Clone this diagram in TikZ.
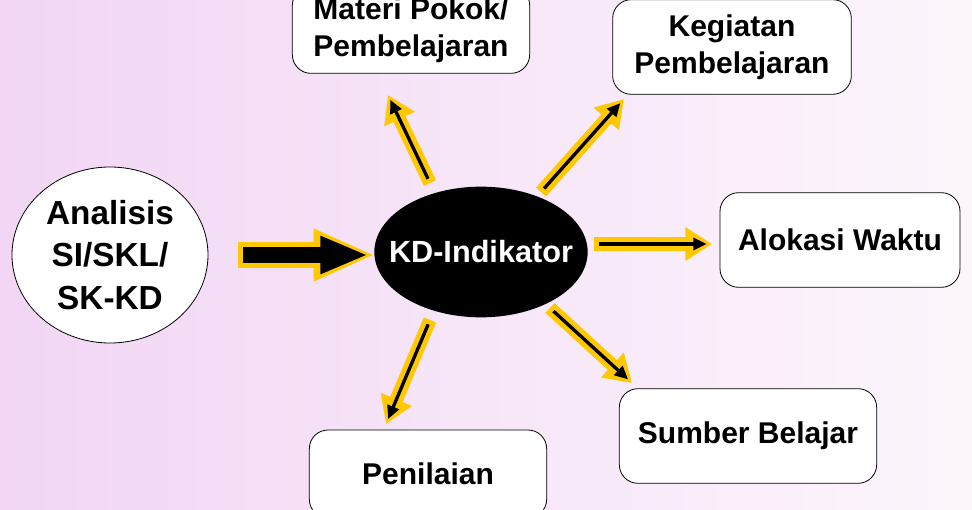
\documentclass[tikz,border=0pt]{standalone}
\usepackage{fontspec}
\setmainfont{Liberation Sans}
\usetikzlibrary{arrows.meta,shapes.geometric}
\definecolor{gold}{RGB}{255,200,0}
\tikzset{
  box/.style={draw,rounded corners=14pt,fill=white,line width=0.6pt,font=\bfseries\fontsize{22.5}{28}\selectfont,align=center,minimum height=71pt,inner sep=1pt},
  oy/.style={draw=gold,line width=10pt,-{Triangle[length=20pt,width=24pt]}},
  ib/.style={draw=black,line width=2.5pt,-{Triangle[length=10pt,width=9pt]},shorten >=4pt,shorten <=3.5pt},
  oyb/.style={draw=gold,line width=20pt,-{Triangle[length=46pt,width=36pt]}},
  ibb/.style={draw=black,line width=12pt,-{Triangle[length=36pt,width=26pt]},shorten >=5pt,shorten <=4pt},
}
\begin{document}
\begin{tikzpicture}[x=0.75pt,y=-0.75pt]
\useasboundingbox (0,0) rectangle (972,510);
\shade[left color={rgb,255:red,242;green,214;blue,244},right color={rgb,255:red,252;green,246;blue,252}] (0,0) rectangle (972,510);
\node[ellipse,draw,fill=white,line width=0.6pt,minimum width=147pt,minimum height=132pt,inner sep=0pt,align=center,font=\bfseries\fontsize{25}{32}\selectfont] (an) at (110,255) {Analisis\\SI/SKL/\\SK-KD};
\node[ellipse,fill=black,minimum width=160pt,minimum height=98pt] (kd) at (481,252) {};
\node[text=white,font=\bfseries\fontsize{23}{28}\selectfont] (kdt) at (kd.center) {KD-Indikator};
\node[box,minimum width=178pt,minimum height=65pt] (mp) at (411,30) {Materi Pokok/\\Pembelajaran};
\node[box,minimum width=179pt] (kg) at (732,47) {Kegiatan\\Pembelajaran};
\node[box,minimum width=180pt] (aw) at (840,240) {Alokasi Waktu};
\node[box,minimum width=193pt] (sb) at (748,436) {Sumber Belajar};
\node[box,minimum width=178pt,minimum height=66pt] (pn) at (428,474) {Penilaian};
\coordinate (a0) at (238,255); \coordinate (a1) at (375,255);
\coordinate (m0) at (430,183); \coordinate (m1) at (388,95);
\coordinate (k0) at (541,192); \coordinate (k1) at (624,99);
\coordinate (w0) at (594,244); \coordinate (w1) at (712,244);
\coordinate (s0) at (550,308); \coordinate (s1) at (632,383);
\coordinate (p0) at (430,320); \coordinate (p1) at (386,424);
\draw[oyb] (a0) -- (a1); \draw[ibb] (a0) -- (a1);
\foreach \s/\e in {m0/m1,k0/k1,w0/w1,s0/s1,p0/p1}{
  \draw[oy] (\s) -- (\e); \draw[ib] (\s) -- (\e);}
\end{tikzpicture}
\end{document}
